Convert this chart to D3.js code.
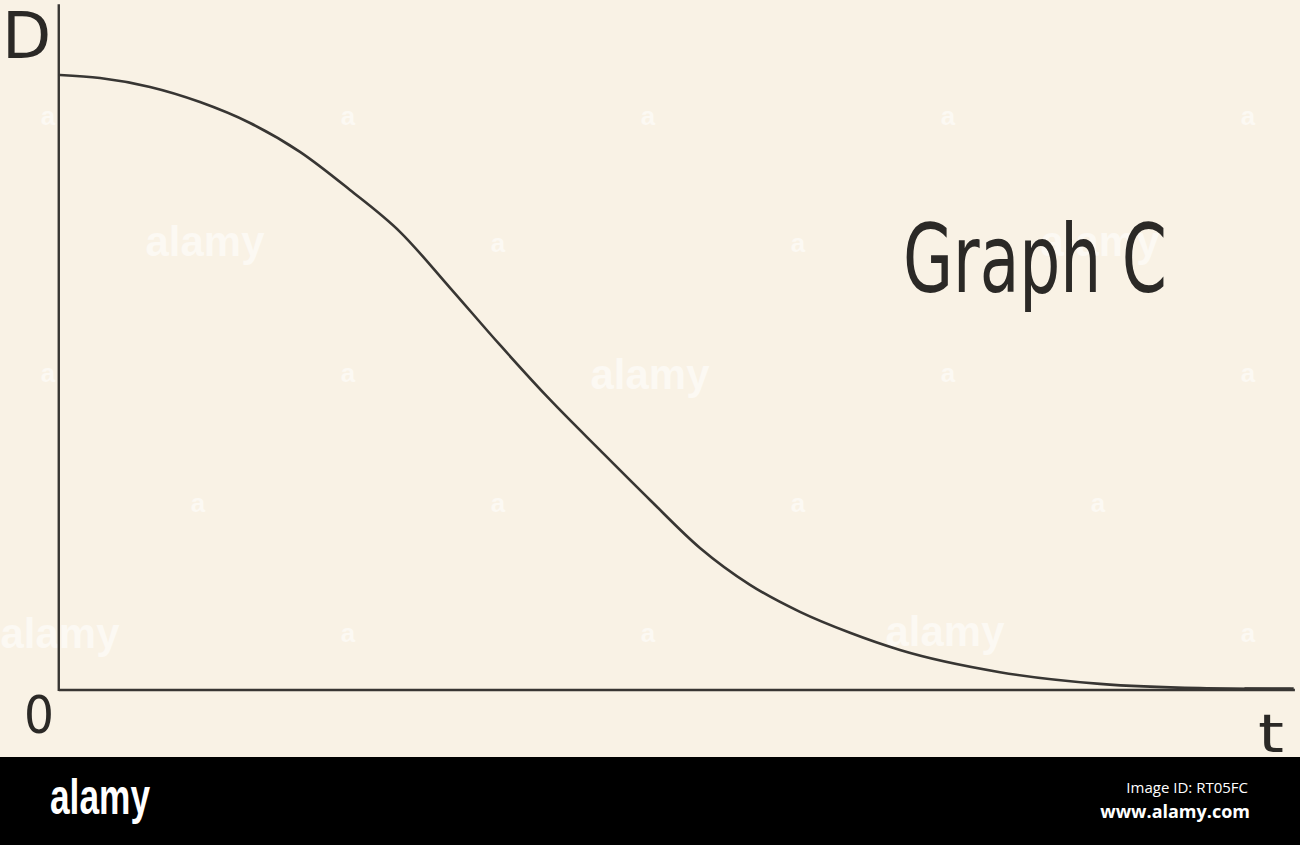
<!DOCTYPE html>
<html>
<head>
<meta charset="utf-8">
<script src="https://cdn.jsdelivr.net/npm/d3@7/dist/d3.min.js"></script>
<style>
html,body{margin:0;padding:0;background:#000;}
svg{display:block;}
</style>
</head>
<body>
<svg id="chart" width="1300" height="845"></svg>
<script>
// Data (t in % of axis length, D in % of initial value)
const tValues = [0, 3.25, 7.32, 11.38, 15.45, 19.51, 23.58, 27.64, 31.71, 35.77, 39.84, 43.90, 47.97, 52.03, 56.10, 60.16, 64.23, 68.29, 76.42, 84.55, 92.68, 100];
const dValues = [100, 99.5, 98.05, 95.6, 92.2, 87.5, 81.3, 74.5, 65.4, 56.1, 47.2, 39.0, 30.9, 23.1, 17.1, 12.7, 9.3, 6.5, 2.9, 1.0, 0.3, 0.15];
const axisLabels = ["D", "0", "t"];
const graphTitle = ["Graph C"];
const footerTexts = ["alamy", "Image ID: RT05FC", "www.alamy.com"];
const wmBig = [[205, 245], [650, 378], [60, 637], [945, 635], [1100, 245]];
const wmSmall = [[48, 118], [348, 118], [648, 118], [948, 118], [1248, 118],
                 [198, 505], [498, 245], [798, 245], [1098, 505], [498, 505], [798, 505],
                 [48, 375], [348, 375], [948, 375], [1248, 375], [348, 635], [648, 635], [1248, 635]];

const svg = d3.select("#chart");
const W = 1300, H = 845;

// background
svg.append("rect").attr("x", 0).attr("y", 0).attr("width", W).attr("height", 757).attr("fill", "#f9f2e5");
svg.append("rect").attr("x", 0).attr("y", 757).attr("width", W).attr("height", H - 757).attr("fill", "#000");

const x = d3.scaleLinear().domain([0, 100]).range([60, 1290]);
const y = d3.scaleLinear().domain([0, 100]).range([690, 75]);

// watermarks (faint)
const wm = svg.append("g").attr("fill", "#ffffff").attr("opacity", 0.55)
  .style("font-family", "'Liberation Sans Narrow', 'Liberation Sans', sans-serif").style("font-weight", "bold");
wm.selectAll("text.big").data(wmBig).enter().append("text")
  .attr("class", "big").attr("x", d => d[0]).attr("y", d => d[1])
  .attr("text-anchor", "middle").attr("dominant-baseline", "middle")
  .style("font-size", "42px").text("alamy");
wm.selectAll("text.small").data(wmSmall).enter().append("text")
  .attr("class", "small").attr("x", d => d[0]).attr("y", d => d[1])
  .attr("text-anchor", "middle").attr("dominant-baseline", "middle")
  .style("font-size", "26px").text("a");

const ink = "#383633";

// axes
const xAxis = d3.axisBottom(x).ticks(0).tickSize(0).tickSizeOuter(0);
const gx = svg.append("g").attr("transform", `translate(0,${y(0)})`).call(xAxis);
gx.select(".domain").attr("stroke", ink).attr("stroke-width", 2.6).attr("d", `M${x(-0.1)},0H${x(100.4)}`);

const yAxis = d3.axisLeft(y).ticks(0).tickSize(0).tickSizeOuter(0);
const gy = svg.append("g").attr("transform", `translate(${x(-0.1)},0)`).call(yAxis);
gy.select(".domain").attr("stroke", ink).attr("stroke-width", 2.4).attr("d", `M0,${y(0) + 1}V${y(111.5)}`);

// curve
const pts = tValues.map((t, i) => [t, dValues[i]]);
const line = d3.line().x(d => x(d[0])).y(d => y(d[1])).curve(d3.curveMonotoneX);
svg.append("path").datum(pts).attr("d", line)
  .attr("fill", "none").attr("stroke", ink).attr("stroke-width", 2.6).attr("stroke-linecap", "round");

// thick end near axis
svg.append("line").attr("x1", x(96.3)).attr("x2", x(100.3)).attr("y1", y(0) - 1).attr("y2", y(0) - 1)
  .attr("stroke", ink).attr("stroke-width", 3.5);

// labels
const lab = svg.append("g").attr("fill", "#2b2926")
  .style("font-family", "'DejaVu Sans', sans-serif");
lab.append("text").attr("x", 2).attr("y", 58).style("font-size", "64px").text(axisLabels[0]);
lab.append("text").attr("x", 24).attr("y", 733).style("font-size", "52px")
  .attr("textLength", 30).attr("lengthAdjust", "spacingAndGlyphs").text(axisLabels[1]);
lab.append("text").attr("x", 1258).attr("y", 752).style("font-size", "54px")
  .attr("textLength", 26).attr("lengthAdjust", "spacingAndGlyphs").text(axisLabels[2]);

svg.append("text").attr("x", 903).attr("y", 292).attr("fill", "#2b2926")
  .style("font-family", "'Liberation Sans Narrow', 'DejaVu Sans Condensed', sans-serif")
  .style("font-size", "94px")
  .attr("textLength", 264).attr("lengthAdjust", "spacingAndGlyphs")
  .text(graphTitle[0]);

// footer
svg.append("text").attr("x", 50).attr("y", 814).attr("fill", "#fff")
  .style("font-family", "'Liberation Sans Narrow', 'Liberation Sans', sans-serif")
  .style("font-weight", "bold").style("font-size", "50px")
  .attr("textLength", 100).attr("lengthAdjust", "spacingAndGlyphs").text(footerTexts[0]);
svg.append("text").attr("x", 1248).attr("y", 793).attr("fill", "#fff").attr("text-anchor", "end")
  .style("font-family", "'Open Sans', 'DejaVu Sans', sans-serif").style("font-size", "15px")
  .text(footerTexts[1]);
svg.append("text").attr("x", 1250).attr("y", 818).attr("fill", "#fff").attr("text-anchor", "end")
  .style("font-family", "'Open Sans', 'DejaVu Sans', sans-serif").style("font-weight", "bold").style("font-size", "18px")
  .text(footerTexts[2]);
</script>
</body>
</html>
